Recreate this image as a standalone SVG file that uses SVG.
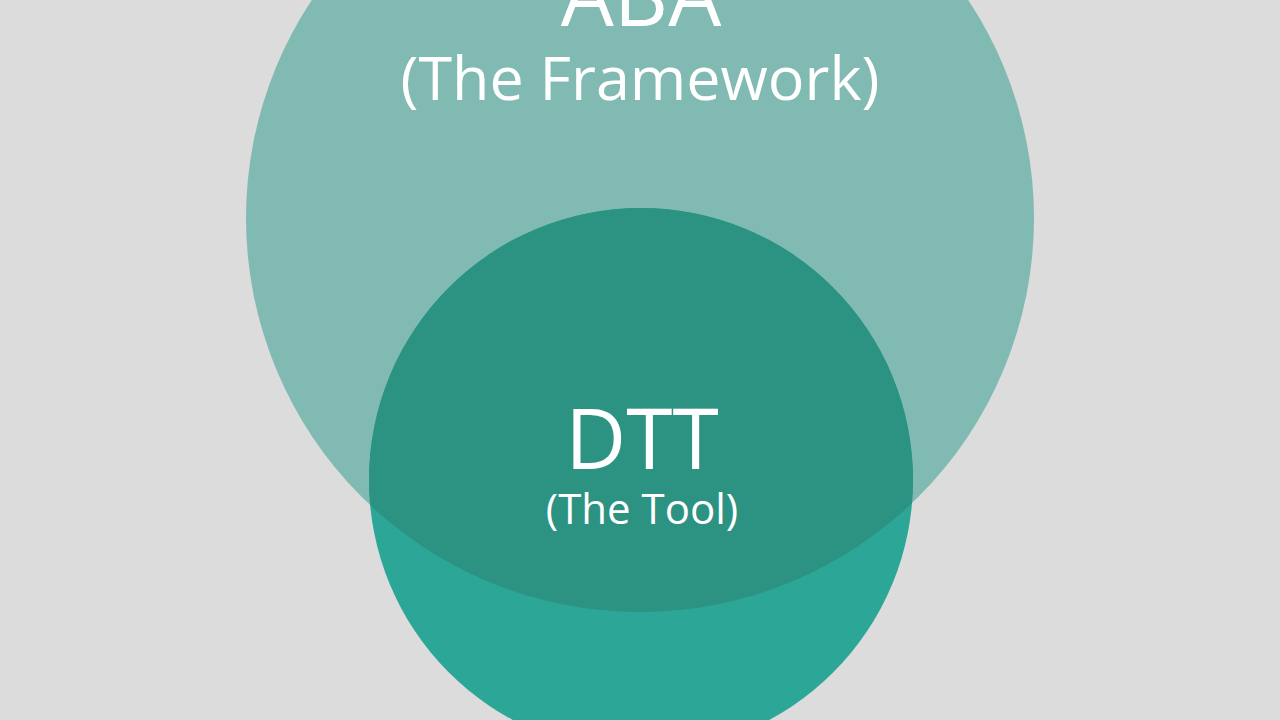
<svg xmlns="http://www.w3.org/2000/svg" width="1280" height="720" viewBox="0 0 1280 720">
<style>
.t{font-family:"Open Sans","Noto Sans",sans-serif;fill:#ffffff;text-anchor:middle}
</style>
<rect width="1280" height="720" fill="#dcdcdc"/>
<g id="aba">
<circle cx="640" cy="218" r="394" fill="#80bab2"/>
</g>
<g id="dtt">
<circle cx="641" cy="480" r="272" fill="#2ca797"/>
</g>
<g id="overlap">
<clipPath id="c1"><circle cx="640" cy="218" r="394"/></clipPath>
<circle cx="641" cy="480" r="272" fill="#2c9282" clip-path="url(#c1)"/>
</g>
<g id="labels">
<text class="t" x="641" y="26" font-size="84">ABA</text>
<text class="t" x="640" y="100" font-size="61">(The Framework)</text>
<text class="t" x="642" y="469" font-size="84">DTT</text>
<text class="t" x="642" y="524" font-size="42">(The Tool)</text>
</g>
<g id="connectors"></g>
</svg>
